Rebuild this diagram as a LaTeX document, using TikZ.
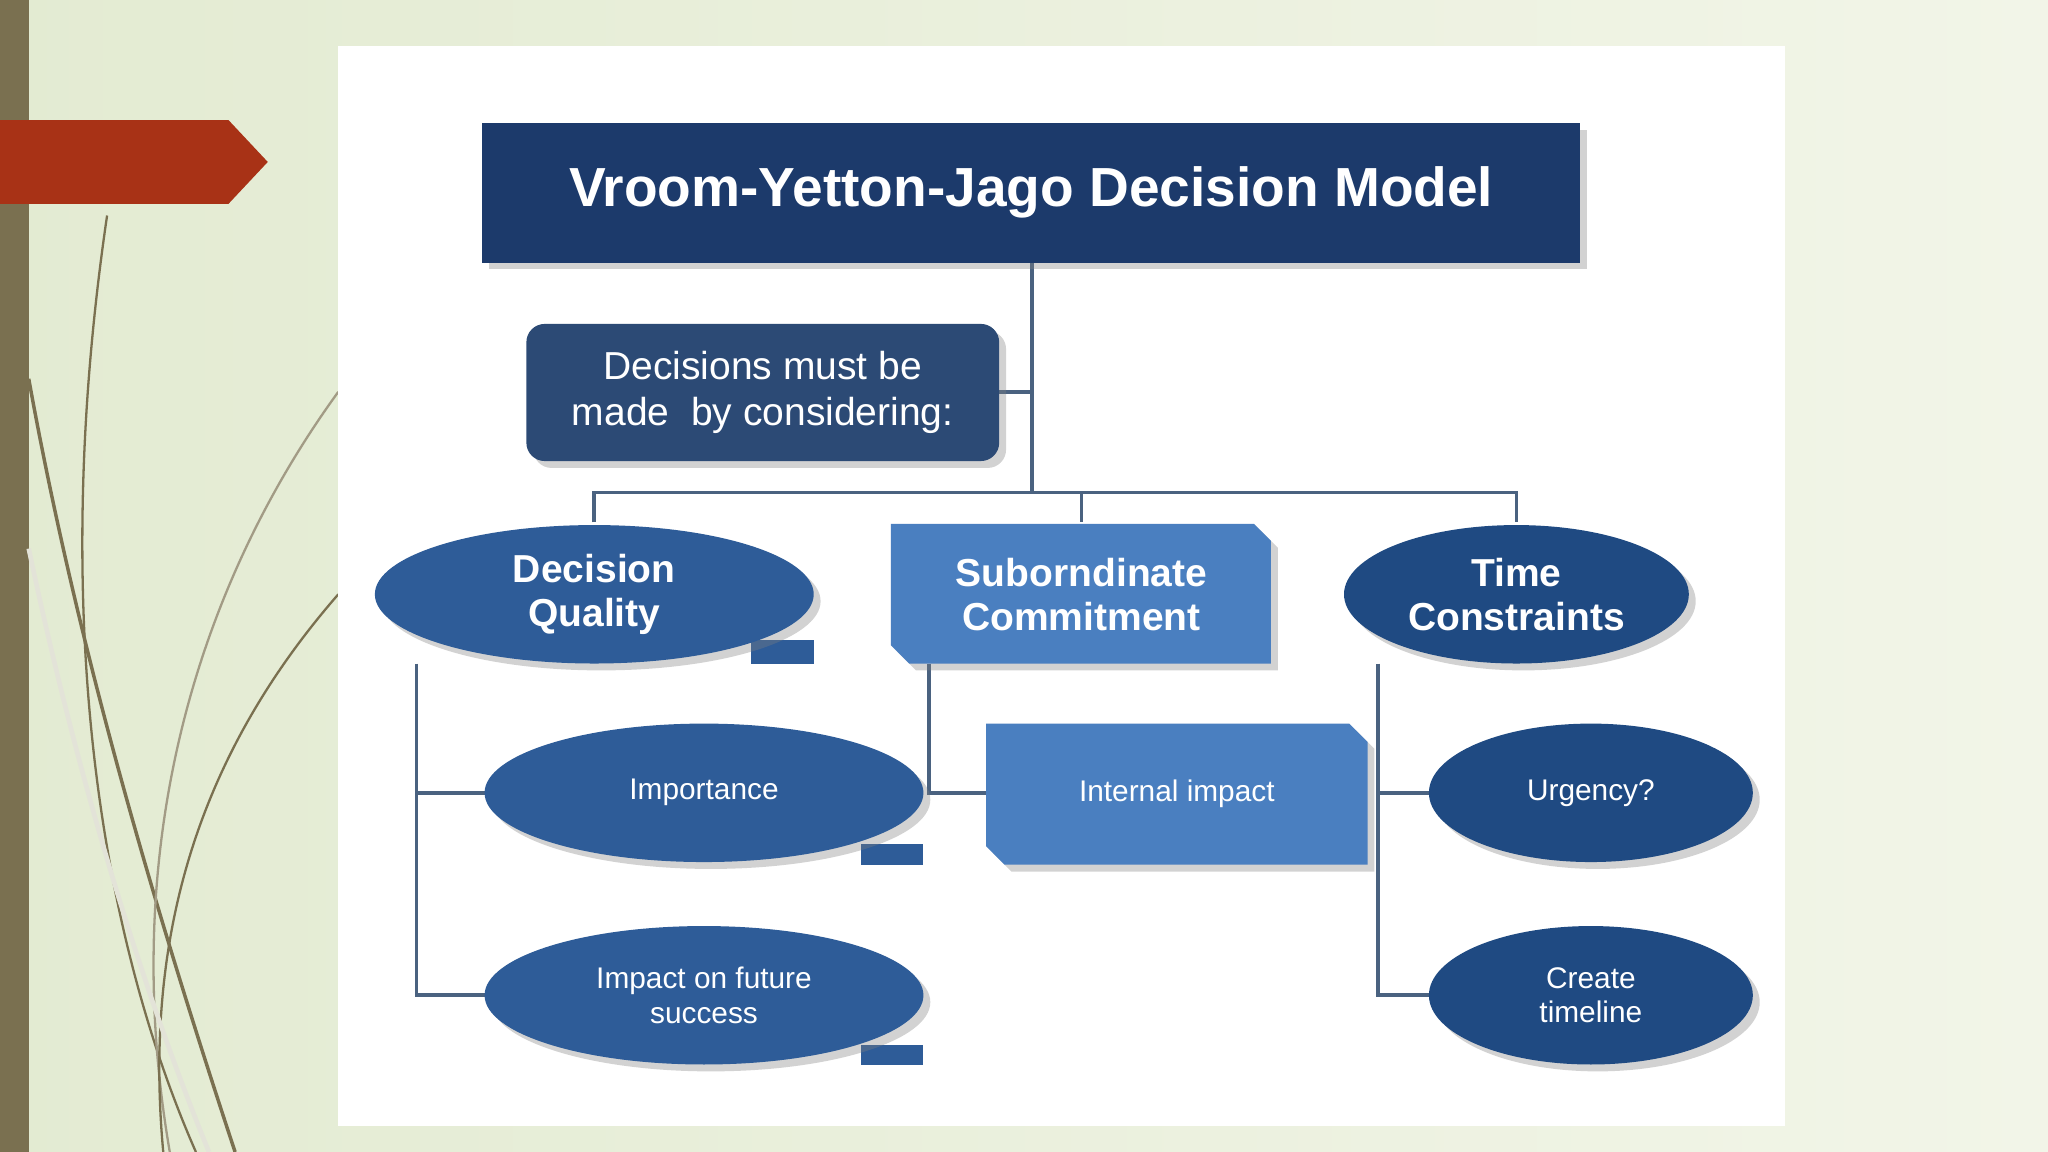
\documentclass[tikz,border=0pt]{standalone}
\usepackage{fontspec}
\setmainfont{Liberation Sans}
\usetikzlibrary{shapes.geometric,shadows}
\definecolor{bgA}{HTML}{E3EBD2}
\definecolor{bgB}{HTML}{F2F5E8}
\definecolor{barc}{HTML}{7A7050}
\definecolor{redc}{HTML}{A83216}
\definecolor{navy}{HTML}{1C3A6B}
\definecolor{grn}{HTML}{2C4A75}
\definecolor{dq}{HTML}{2E5C98}
\definecolor{sc}{HTML}{4A7FC0}
\definecolor{tc}{HTML}{1F4A82}
\definecolor{linec}{HTML}{4A6280}
\begin{document}
\begin{tikzpicture}[x=0.02cm,y=-0.02cm,
  conn/.style={draw=linec,line width=1.6pt},
  lbl/.style={text=white,font=\bfseries\fontsize{17}{19}\selectfont,align=center},
  sml/.style={text=white,font=\fontsize{13}{15}\selectfont,align=center},
  shd/.style={drop shadow={opacity=0.35,shadow xshift=3pt,shadow yshift=-3pt}}]
\useasboundingbox (0,0) rectangle (1568,882);
\shade[left color=bgA,right color=bgB] (0,0) rectangle (1568,882);
\fill[barc] (0,0) rectangle (22,882);
\fill[redc] (0,92) -- (175,92) -- (205,124) -- (175,156) -- (0,156) -- cycle;
% decorative curves
\draw[barc,line width=1pt] (82,165) .. controls (40,450) and (70,700) .. (150,882);
\draw[barc,line width=1.5pt] (22,290) .. controls (60,500) and (120,700) .. (180,882);
\draw[barc!70,line width=1pt] (259,300) .. controls (150,450) and (90,650) .. (130,882);
\draw[barc,line width=1pt] (259,455) .. controls (150,580) and (110,720) .. (125,882);
\draw[bgA!60!barc!40,line width=2pt] (22,420) .. controls (60,600) and (110,760) .. (160,882);
% panel
\fill[white] (259,35) rectangle (1367,862);
% connectors
\coordinate (jt) at (790,377);
\draw[conn] (790,201) -- (jt);
\draw[conn] (455,400) -- (455,377) -- (1161,377) -- (1161,400);
\draw[conn] (828,377) -- (828,400);
\draw[conn] (765,300) -- (790,300);
\draw[conn] (319,508) -- (319,762) -- (371,762);
\draw[conn] (319,607) -- (371,607);
\draw[conn] (711,508) -- (711,607) -- (755,607);
\draw[conn] (1055,508) -- (1055,762) -- (1095,762);
\draw[conn] (1055,607) -- (1095,607);
% title
\node[shd,fill=navy,minimum width=841*0.02cm,minimum height=107*0.02cm,text=white,font=\bfseries\fontsize{24}{26}\selectfont] (title) at (789.5,147.5) {Vroom-Yetton-Jago Decision Model};
\node[shd,fill=grn,rounded corners=8pt,minimum width=362*0.02cm,minimum height=105*0.02cm,text=white,font=\fontsize{17}{20}\selectfont,align=center] (dec) at (584,300.5) {Decisions must be\\made\ \ by considering:};
% Decision Quality
\fill[dq] (575,490) rectangle (623,508);
\node[shd,ellipse,fill=dq,minimum width=336*0.02cm,minimum height=106*0.02cm,lbl] (dqn) at (455,455) {Decision\\Quality};
% Subordinate
\fill[sc,shd] (682,401) -- (960,401) -- (973,414) -- (973,508) -- (696,508) -- (682,494) -- cycle;
\node[lbl] (scn) at (828,455) {Suborndinate\\Commitment};
% Time
\node[shd,ellipse,fill=tc,minimum width=264*0.02cm,minimum height=106*0.02cm,lbl] (tcn) at (1161,455) {Time\\Constraints};
% Importance
\fill[dq] (659,646) rectangle (707,662);
\node[shd,ellipse,fill=dq,minimum width=336*0.02cm,minimum height=106*0.02cm,sml] (imp) at (539,607) {Importance};
\fill[dq] (659,800) rectangle (707,815);
\node[shd,ellipse,fill=dq,minimum width=336*0.02cm,minimum height=106*0.02cm,sml] (fut) at (539,762) {Impact on future\\success};
% Internal impact
\fill[sc,shd] (755,554) -- (1033,554) -- (1047,568) -- (1047,662) -- (769,662) -- (755,648) -- cycle;
\node[sml] (int) at (901,608) {Internal impact};
% right
\node[shd,ellipse,fill=tc,minimum width=248*0.02cm,minimum height=106*0.02cm,sml] (urg) at (1218,607) {Urgency?};
\node[shd,ellipse,fill=tc,minimum width=248*0.02cm,minimum height=106*0.02cm,sml] (tim) at (1218,762) {Create\\timeline};
\end{tikzpicture}
\end{document}
